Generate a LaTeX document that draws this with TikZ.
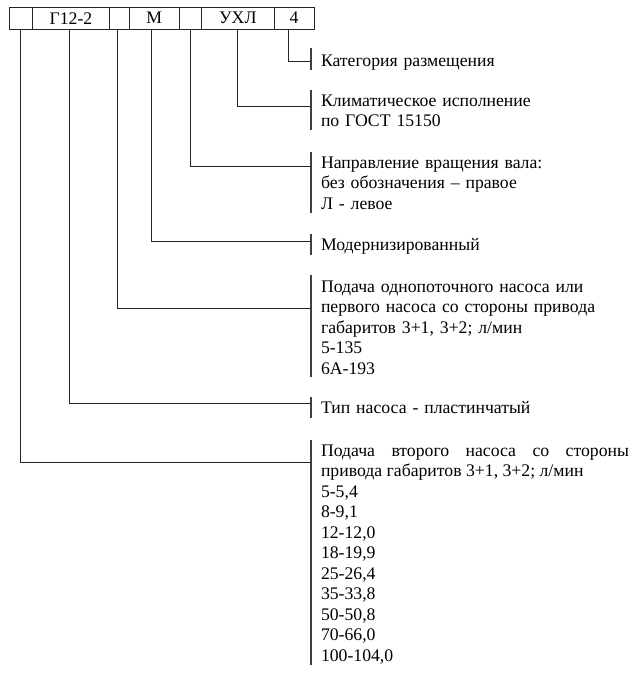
\documentclass[tikz,border=0pt]{standalone}
\usepackage{fontspec}
\setmainfont{Liberation Serif}
\begin{document}
\begin{tikzpicture}[x=1pt,y=-1pt,
  box/.style={draw=black!85, line width=1pt, minimum height=21.7pt, inner sep=0pt, outer sep=0pt, anchor=north west, font=\fontsize{17.7}{20.5}\selectfont},
  lbl/.style={anchor=north west, inner sep=0pt, outer sep=0pt, text width=315pt, align=left, font=\fontsize{17.7}{20.5}\selectfont},
  con/.style={draw=black!85, line width=1pt},
  bar/.style={draw=black!75, line width=1.1pt}]
\useasboundingbox (0,0) rectangle (640,675);
% code boxes
\node[box, minimum width=23.7pt] (b1) at (9,7.3) {};
\node[box, minimum width=76.6pt] (b2) at (b1.north east) {Г12-2};
\node[box, minimum width=20pt]   (b3) at (b2.north east) {};
\node[box, minimum width=49.7pt] (b4) at (b3.north east) {М};
\node[box, minimum width=22.7pt] (b5) at (b4.north east) {};
\node[box, minimum width=72.3pt] (b6) at (b5.north east) {УХЛ};
\node[box, minimum width=40pt]   (b7) at (b6.north east) {4};
% descriptions
\newcommand{\fl}{\rule{0pt}{13.5pt}}
\node[lbl] (t1) at (321,52.5) {\fl Категория размещения};
\node[lbl] (t2) at (321,92.5) {\fl Климатическое исполнение\\по ГОСТ 15150};
\node[lbl] (t3) at (321,154.5) {\fl Направление вращения вала:\\без обозначения – правое\\Л - левое};
\node[lbl] (t4) at (321,236.5) {\fl Модернизированный};
\node[lbl] (t5) at (321,278.5) {\fl Подача однопоточного насоса или\\первого насоса со стороны привода\\габаритов 3+1, 3+2; л/мин\\5-135\\6А-193};
\node[lbl] (t6) at (321,399.5) {\fl Тип насоса - пластинчатый};
\node[lbl, text width=308pt, align=justify] (t7) at (321,442.5) {\fl Подача второго насоса со стороны\linebreak привода габаритов 3+1, 3+2; л/мин\\5-5,4\\8-9,1\\12-12,0\\18-19,9\\25-26,4\\35-33,8\\50-50,8\\70-66,0\\100-104,0};
% bars
\draw[bar] (311,48) -- (311,70);
\draw[bar] (311,90) -- (311,130);
\draw[bar] (311,152) -- (311,213);
\draw[bar] (311,234) -- (311,255);
\draw[bar] (311,275) -- (311,377);
\draw[bar] (311,397) -- (311,418);
\draw[bar] (311,440) -- (311,665);
\coordinate (c7) at (311,61);
\coordinate (c6) at (311,106);
\coordinate (c5) at (311,166);
\coordinate (c4) at (311,241);
\coordinate (c3) at (311,308);
\coordinate (c2) at (311,403.3);
\coordinate (c1) at (311,462.3);
% connectors
\draw[con] (b7.south) ++(-5.7,0) |- (c7);
\draw[con] (b6.south) ++(-0.5,0) |- (c6);
\draw[con] (b5.south) ++(-0.3,0) |- (c5);
\draw[con] (b4.south) ++(-2.5,0) |- (c4);
\draw[con] (b3.south) ++(-1.6,0) |- (c3);
\draw[con] (b2.south) ++(-1.7,0) |- (c2);
\draw[con] (b1.south) |- (c1);
\end{tikzpicture}
\end{document}
